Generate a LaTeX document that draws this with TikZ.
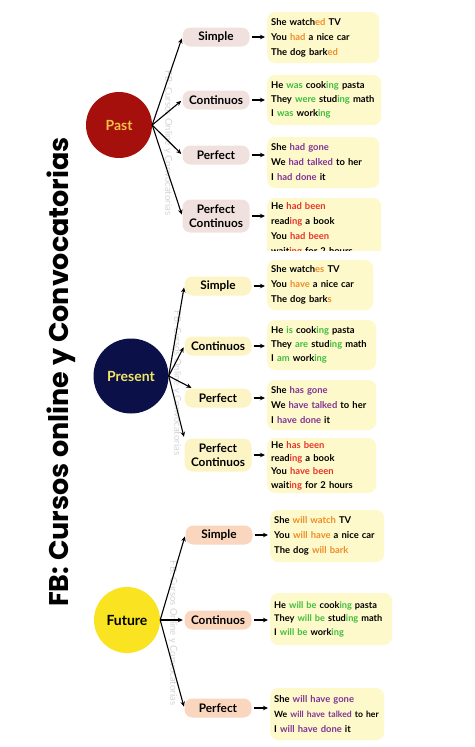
\documentclass[tikz,border=0pt]{standalone}
\usepackage{fontspec}
\setmainfont{Lato}
\newfontfamily\titlefont{Poppins}
\usetikzlibrary{arrows.meta}

\definecolor{pastred}{RGB}{165,16,12}
\definecolor{pasttxt}{RGB}{244,194,70}
\definecolor{presnavy}{RGB}{12,16,72}
\definecolor{prestxt}{RGB}{240,232,100}
\definecolor{futyellow}{RGB}{250,228,34}
\definecolor{labpink}{RGB}{241,225,222}
\definecolor{labyellow}{RGB}{252,244,196}
\definecolor{labpeach}{RGB}{250,214,190}
\definecolor{exbox}{RGB}{254,249,202}
\definecolor{torange}{RGB}{240,140,40}
\definecolor{tgreen}{RGB}{62,190,62}
\definecolor{tpurple}{RGB}{128,52,150}
\definecolor{tred}{RGB}{230,52,40}

\newcommand\wor[1]{\textcolor{torange}{#1}}
\newcommand\wgr[1]{\textcolor{tgreen}{#1}}
\newcommand\wpu[1]{\textcolor{tpurple}{#1}}
\newcommand\wre[1]{\textcolor{tred}{#1}}

\begin{document}
\begin{tikzpicture}[x=1pt,y=-1pt,
  tense/.style={circle, minimum size=66pt, inner sep=0pt, font=\bfseries\fontsize{14}{16}\selectfont},
  lab/.style={rounded corners=8pt, minimum width=67pt, minimum height=19pt, inner sep=1pt, align=center, font=\bfseries\fontsize{11.8}{14}\selectfont},
  ex/.style={rounded corners=8pt, fill=exbox, anchor=west, align=left, inner xsep=4pt, inner ysep=2pt, font=\bfseries\fontsize{9.4}{15}\selectfont},
  arr/.style={-{Stealth[length=5pt,width=4.5pt]}, line width=1.1pt},
  marca/.style={rotate=-90, text=black!17, font=\fontsize{9.5}{10}\selectfont}]

\useasboundingbox (0,0) rectangle (474,747);
\fill[white] (0,0) rectangle (474,747);

% titol vertical
\node[rotate=90, anchor=base, font=\titlefont\bfseries\fontsize{27}{30}\selectfont] (titol) at (68,372) {FB: Cursos online y Convocatorias};

% marques d'aigua
\node[marca] (m1) at (168,143) {FB: Cursos Online y Convocatorias};
\node[marca] (m2) at (177,383) {FB: Cursos Online y Convocatorias};
\node[marca] (m3) at (173,633) {FB: Cursos Online y Convocatorias};

% temps
\node[tense, fill=pastred, text=pasttxt] (past) at (119,125) {Past};
\node[tense, fill=presnavy, text=prestxt, minimum size=75pt] (present) at (131,376) {Present};
\node[tense, fill=futyellow, text=black] (future) at (127,620) {Future};

% Past
\node[lab, fill=labpink] (pas1) at (216,37) {Simple};
\node[lab, fill=labpink] (pas2) at (216,100) {Continuos};
\node[lab, fill=labpink] (pas3) at (216,155) {Perfect};
\node[lab, fill=labpink, minimum height=33pt] (pas4) at (216,216) {Perfect\\Continuos};

\node[ex, text width=104pt, minimum height=51pt] (pasx1) at (267,37.5) {She watch\wor{ed} TV\\You \wor{had} a nice car\\The dog bark\wor{ed}};
\node[ex, text width=106pt, minimum height=50pt, font=\bfseries\fontsize{9.4}{14}\selectfont] (pasx2) at (267,100) {He \wgr{was} cook\wgr{ing} pasta\\They \wgr{were} stud\wgr{ing} math\\I \wgr{was} work\wgr{ing}};
\node[ex, text width=104pt, minimum height=51pt] (pasx3) at (267,162.5) {She \wpu{had gone}\\We \wpu{had talked} to her\\I \wpu{had done} it};
\begin{scope}
\clip (0,0) rectangle (474,250);
\node[ex, text width=106pt, minimum height=62pt] (pasx4) at (267,229) {He \wre{had been}\\read\wre{ing} a book\\You \wre{had been}\\wait\wre{ing} for 2 hours};
\end{scope}

% Present
\node[lab, fill=labyellow] (pre1) at (218,286) {Simple};
\node[lab, fill=labyellow] (pre2) at (218,346) {Continuos};
\node[lab, fill=labyellow] (pre3) at (218,398) {Perfect};
\node[lab, fill=labyellow, minimum height=33pt] (pre4) at (218,455) {Perfect\\Continuos};

\node[ex, text width=98pt, minimum height=50pt] (prex1) at (267,285) {She watch\wor{es} TV\\You \wor{have} a nice car\\The dog bark\wor{s}};
\node[ex, text width=101pt, minimum height=50pt, font=\bfseries\fontsize{9.4}{14}\selectfont] (prex2) at (267,345) {He \wgr{is} cook\wgr{ing} pasta\\They \wgr{are} stud\wgr{ing} math\\I \wgr{am} work\wgr{ing}};
\node[ex, text width=101pt, minimum height=50pt] (prex3) at (267,405) {She \wpu{has gone}\\We \wpu{have talked} to her\\I \wpu{have done} it};
\node[ex, text width=101pt, minimum height=55pt, font=\bfseries\fontsize{9.4}{13.3}\selectfont] (prex4) at (267,465.5) {He \wre{has been}\\read\wre{ing} a book\\You \wre{have been}\\wait\wre{ing} for 2 hours};

% Future
\node[lab, fill=labpeach] (fut1) at (219,535) {Simple};
\node[lab, fill=labpeach] (fut2) at (218,620) {Continuos};
\node[lab, fill=labpeach] (fut3) at (218,708) {Perfect};

\node[ex, text width=106pt, minimum height=52pt] (futx1) at (270,536) {She \wor{will watch} TV\\You \wor{will have} a nice car\\The dog \wor{will bark}};
\node[ex, text width=114pt, minimum height=52pt, font=\bfseries\fontsize{9.2}{13.5}\selectfont] (futx2) at (270,619) {He \wgr{will be} cook\wgr{ing} pasta\\They \wgr{will be} stud\wgr{ing} math\\I \wgr{will be} work\wgr{ing}};
\node[ex, text width=106pt, minimum height=52pt] (futx3) at (270,714) {She \wpu{will have gone}\\\mbox{\fontsize{8.6}{14.5}\selectfont We \wpu{will have talked} to her}\\I \wpu{will have done} it};

% fletxes des dels cercles
\foreach \n in {1,...,4}
  \draw[arr, shorten >=1.5pt] (past.east) -- (pas\n.west);
\draw[arr, shorten >=1.5pt] (present.east) -- (pre1.west);
\draw[arr, shorten >=1.5pt] (present.east) -- (pre2.west);
\draw[arr, shorten >=1pt] (present.east) -- ([xshift=8pt]pre3.north west);
\draw[arr, shorten >=1.5pt] (present.east) -- (pre4.north west);
\foreach \n in {1,...,3}
  \draw[arr, shorten >=1.5pt] (future.east) -- (fut\n.west);

% fletxes cap als exemples
\foreach \n in {1,...,4} {
  \draw[arr, shorten <=2pt, shorten >=2pt] (pas\n.east) -- (pas\n.east -| pasx\n.west);
  \draw[arr, shorten <=2pt, shorten >=2pt] (pre\n.east) -- (pre\n.east -| prex\n.west);
}
\foreach \n in {1,...,3}
  \draw[arr, shorten <=2pt, shorten >=2pt] (fut\n.east) -- (fut\n.east -| futx\n.west);

\end{tikzpicture}
\end{document}
